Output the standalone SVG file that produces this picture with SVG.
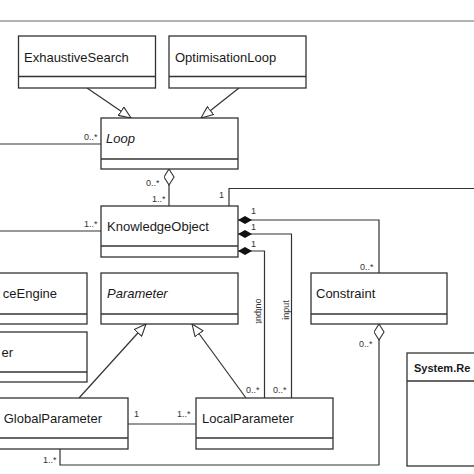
<svg xmlns="http://www.w3.org/2000/svg" width="474" height="474" viewBox="0 0 474 474">
<style>
.box{fill:#fff;stroke:#333;stroke-width:1.3}
.div{stroke:#333;stroke-width:1.3}
.name{font-family:"Liberation Sans",Arial,sans-serif;font-size:13px;fill:#1a1a1a}
.it{font-style:italic}
.bold{font-weight:bold;font-size:11px}
.lbl{font-family:"Liberation Sans",Arial,sans-serif;font-size:9px;fill:#333}
.conn{fill:none;stroke:#333;stroke-width:1.2}
</style>
<defs>
<marker id="tri" viewBox="0 0 13 11" refX="12.5" refY="5.5" markerWidth="13" markerHeight="11" markerUnits="userSpaceOnUse" orient="auto">
<path d="M0.5,0.5 L12.5,5.5 L0.5,10.5 Z" fill="#fff" stroke="#333" stroke-width="1.1"/>
</marker>
<marker id="odia" viewBox="0 0 17 11" refX="0.5" refY="5.5" markerWidth="17" markerHeight="11" markerUnits="userSpaceOnUse" orient="auto">
<path d="M0.5,5.5 L8.5,0.5 L16.5,5.5 L8.5,10.5 Z" fill="#fff" stroke="#333" stroke-width="1.1"/>
</marker>
<marker id="fdia" viewBox="0 0 14 8" refX="0" refY="4" markerWidth="14" markerHeight="8" markerUnits="userSpaceOnUse" orient="auto">
<path d="M0,4 L7,0 L14,4 L7,8 Z" fill="#111"/>
</marker>
</defs>
<rect width="474" height="474" fill="#fff"/>
<line x1="0" y1="21" x2="474" y2="21" stroke="#666" stroke-width="1.2"/>

<g id="connectors">
<path class="conn" d="M87,88 L131,118" marker-end="url(#tri)"/>
<path class="conn" d="M239,88 L201,118" marker-end="url(#tri)"/>
<path class="conn" d="M0,144 H101"/>
<path class="conn" d="M0,231 H101"/>
<path class="conn" d="M169,169 V206" marker-start="url(#odia)"/>
<path class="conn" d="M229,206 V188.5 H474"/>
<path class="conn" d="M238,220 H379 V273" marker-start="url(#fdia)"/>
<path class="conn" d="M238,234 H291.5 V398" marker-start="url(#fdia)"/>
<path class="conn" d="M238,251 H264.5 V398" marker-start="url(#fdia)"/>
<path class="conn" d="M79,398 L146,324" marker-end="url(#tri)"/>
<path class="conn" d="M246,398 L192,324" marker-end="url(#tri)"/>
<path class="conn" d="M128,424 H196"/>
<path class="conn" d="M379,324 V465 H60 V449" marker-start="url(#odia)"/>
<text class="lbl" x="84" y="140">0..*</text>
<text class="lbl" x="84" y="227">1..*</text>
<text class="lbl" x="146" y="186">0..*</text>
<text class="lbl" x="152" y="202">1..*</text>
<text class="lbl" x="219" y="198">1</text>
<text class="lbl" x="251" y="214">1</text>
<text class="lbl" x="251" y="230">1</text>
<text class="lbl" x="251" y="247">1</text>
<text class="lbl" x="360" y="270">0..*</text>
<text class="lbl" x="359" y="347">0..*</text>
<text class="lbl" x="246" y="393">0..*</text>
<text class="lbl" x="273" y="393">0..*</text>
<text class="lbl" x="134" y="417">1</text>
<text class="lbl" x="177" y="417">1..*</text>
<text class="lbl" x="43" y="463">1..*</text>
<text class="lbl" transform="translate(258.5,311) rotate(90)" text-anchor="middle" dominant-baseline="central">output</text>
<text class="lbl" transform="translate(285.5,310) rotate(-90)" text-anchor="middle" dominant-baseline="central">input</text>
</g>

<g id="ExhaustiveSearch">
<rect class="box" x="18.5" y="36" width="137" height="52"/>
<line class="div" x1="18.5" y1="76.5" x2="155.5" y2="76.5"/>
<text class="name" x="24" y="62">ExhaustiveSearch</text>
</g>
<g id="OptimisationLoop">
<rect class="box" x="169" y="36" width="137" height="52"/>
<line class="div" x1="169" y1="76.5" x2="306" y2="76.5"/>
<text class="name" x="175" y="62">OptimisationLoop</text>
</g>
<g id="Loop">
<rect class="box" x="101" y="118" width="137" height="51"/>
<line class="div" x1="101" y1="159" x2="238" y2="159"/>
<text class="name it" x="106" y="143">Loop</text>
</g>
<g id="KnowledgeObject">
<rect class="box" x="101" y="206" width="137" height="51"/>
<line class="div" x1="101" y1="246" x2="238" y2="246"/>
<text class="name" x="107" y="231">KnowledgeObject</text>
</g>
<g id="InferenceEngine">
<rect class="box" x="-50" y="273" width="137" height="51"/>
<line class="div" x1="-50" y1="314" x2="87" y2="314"/>
<text class="name" x="57" y="298" text-anchor="end">ceEngine</text>
</g>
<g id="Parameter">
<rect class="box" x="101" y="273" width="137" height="51"/>
<line class="div" x1="101" y1="314" x2="238" y2="314"/>
<text class="name it" x="107" y="298">Parameter</text>
</g>
<g id="Constraint">
<rect class="box" x="311" y="273" width="136" height="51"/>
<line class="div" x1="311" y1="314" x2="447" y2="314"/>
<text class="name" x="316" y="298">Constraint</text>
</g>
<g id="er">
<rect class="box" x="-50" y="332" width="137" height="50"/>
<line class="div" x1="-50" y1="372" x2="87" y2="372"/>
<text class="name" x="13" y="357" text-anchor="end">er</text>
</g>
<g id="GlobalParameter">
<rect class="box" x="-9" y="398" width="137" height="51"/>
<line class="div" x1="-9" y1="438" x2="128" y2="438"/>
<text class="name" x="102" y="423" text-anchor="end">GlobalParameter</text>
</g>
<g id="LocalParameter">
<rect class="box" x="196" y="398" width="137" height="51"/>
<line class="div" x1="196" y1="438" x2="333" y2="438"/>
<text class="name" x="202" y="423">LocalParameter</text>
</g>
<g id="SystemRe">
<rect class="box" x="407" y="353" width="100" height="113"/>
<line class="div" x1="407" y1="381" x2="507" y2="381"/>
<text class="name bold" x="414" y="372">System.Re</text>
</g>
</svg>
